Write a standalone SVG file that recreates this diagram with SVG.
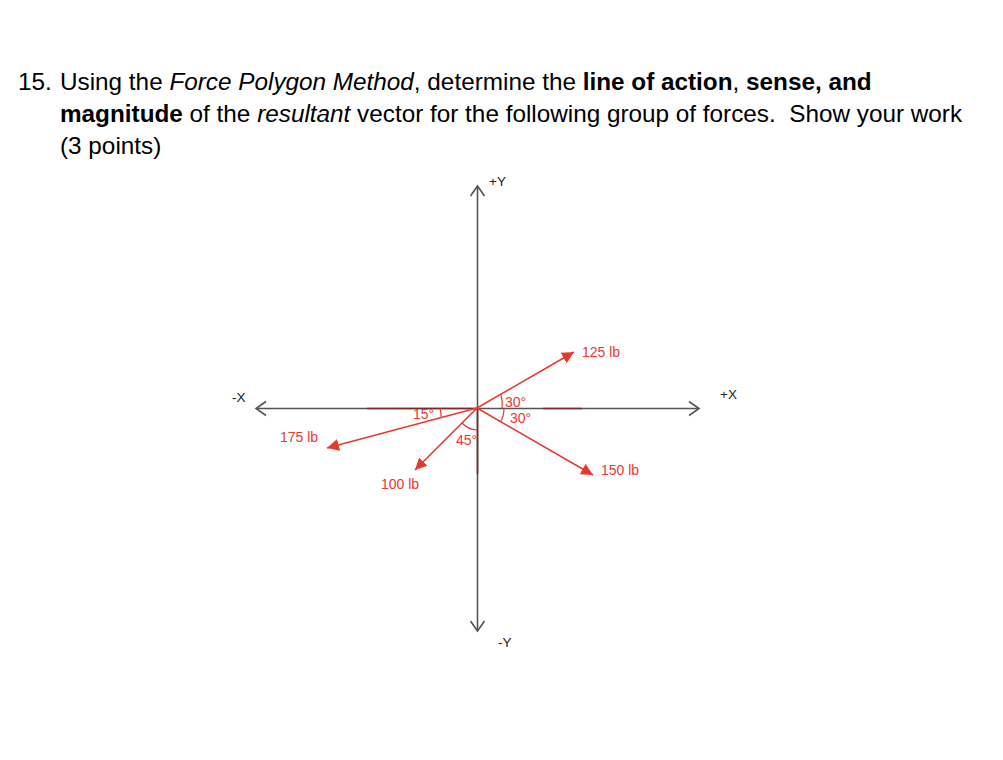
<svg xmlns="http://www.w3.org/2000/svg" width="1003" height="760" viewBox="0 0 1003 760">
<defs>
<style>
.q{font-family:"Liberation Sans",Arial,sans-serif;font-size:24.3px;fill:#000;white-space:pre}
.ax{stroke:#555;stroke-width:1.6;fill:none}
.axl{font-family:"Liberation Sans",Arial,sans-serif;font-size:13.5px;fill:#222}
.vec{stroke:#e8392f;stroke-width:1.6;fill:none}
.arc{stroke:#e8392f;stroke-width:1.2;fill:none}
.rl{font-family:"Liberation Sans",Arial,sans-serif;font-size:14px;fill:#e8392f}
.ang{font-family:"Liberation Sans",Arial,sans-serif;font-size:14px;fill:#e8392f}
.ov{stroke:#7a2a26;stroke-width:1.6}
</style>
<marker id="tri" viewBox="0 0 12 12" refX="12" refY="6" markerWidth="12" markerHeight="12" markerUnits="userSpaceOnUse" orient="auto">
<path d="M0,0 L12,6 L0,12 Z" fill="#e8392f"/>
</marker>
</defs>
<rect width="1003" height="760" fill="#fff"/>
<g id="question">
<text class="q" x="18" y="90">15.</text>
<text class="q" x="60" y="90">Using the <tspan font-style="italic">Force Polygon Method</tspan>, determine the <tspan font-weight="bold">line of action</tspan>, <tspan font-weight="bold">sense, and</tspan></text>
<text class="q" x="60" y="122" xml:space="preserve"><tspan font-weight="bold">magnitude</tspan> of the <tspan font-style="italic">resultant</tspan> vector for the following group of forces.  Show your work</text>
<text class="q" x="60" y="154">(3 points)</text>
</g>
<g id="axes">
<line class="ax" x1="477.5" y1="186" x2="477.5" y2="631"/>
<polyline class="ax" points="470.5,196 477.5,186 484.5,196"/>
<polyline class="ax" points="470.5,621 477.5,631 484.5,621"/>
<line class="ax" x1="256" y1="408.5" x2="699" y2="408.5"/>
<polyline class="ax" points="266,401.5 256,408.5 266,415.5"/>
<polyline class="ax" points="689,401.5 699,408.5 689,415.5"/>
<line class="ov" x1="367" y1="408.5" x2="477" y2="408.5"/>
<line class="ov" x1="543" y1="408.5" x2="582" y2="408.5"/>
<line class="ov" x1="477.5" y1="408" x2="477.5" y2="474"/>
<text class="axl" x="489" y="186">+Y</text>
<text class="axl" x="498" y="647">-Y</text>
<text class="axl" x="232" y="402">-X</text>
<text class="axl" x="720" y="399">+X</text>
</g>
<g id="connectors">
<line class="vec" x1="477" y1="408" x2="574" y2="352" marker-end="url(#tri)"/>
<line class="vec" x1="477" y1="408" x2="593" y2="475" marker-end="url(#tri)"/>
<line class="vec" x1="477" y1="408" x2="327" y2="448" marker-end="url(#tri)"/>
<line class="vec" x1="477" y1="408" x2="415" y2="470" marker-end="url(#tri)"/>
</g>
<g id="angles">
<path class="arc" d="M500.8,394.5 A27,27 0 0 1 502,408"/>
<path class="arc" d="M504,408.5 A27,27 0 0 1 500.4,422"/>
<path class="arc" d="M440,408.5 A37,37 0 0 1 441.3,418"/>
<path class="arc" d="M462,423 A22,22 0 0 0 477,430"/>
<text class="ang" x="505" y="407">30°</text>
<text class="ang" x="510" y="423">30°</text>
<text class="ang" x="413" y="419">15°</text>
<text class="ang" x="456" y="445">45°</text>
</g>
<g id="labels">
<text class="rl" x="582" y="357">125 lb</text>
<text class="rl" x="601" y="475">150 lb</text>
<text class="rl" x="280" y="442">175 lb</text>
<text class="rl" x="381" y="489">100 lb</text>
</g>
</svg>
